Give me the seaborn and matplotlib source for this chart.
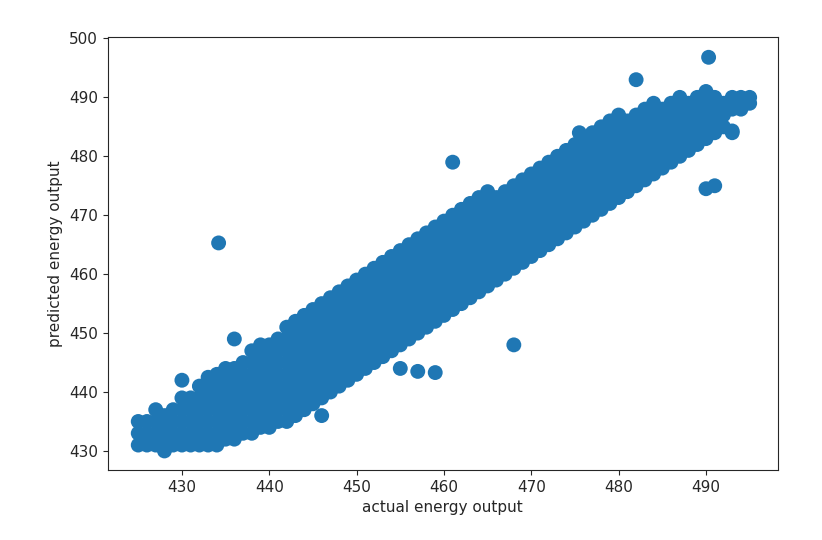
import matplotlib
matplotlib.use("Agg")
import matplotlib.pyplot as plt
import pandas as pd
import seaborn as sns

# actual output values (one column of points per value)
actual_cols = list(range(425, 496))
# predicted values, one list per actual value
predicted_cols = [
    [431, 433, 435], [431, 433, 435], [431, 433, 435, 437], [430, 432, 434, 436],
    [431, 433, 435, 437], [431, 433, 435, 437, 439], [431, 433, 435, 437, 439],
    [431, 433, 435, 437, 439, 441], [431, 433, 435, 437, 439, 441],
    [431, 433, 435, 437, 439, 441, 443], [432, 434, 436, 438, 440, 442, 444],
    [432, 434, 436, 438, 440, 442, 444], [433, 435, 437, 439, 441, 443, 445],
    [433, 435, 437, 439, 441, 443, 445, 447], [434, 436, 438, 440, 442, 444, 446, 448],
    [434, 436, 438, 440, 442, 444, 446, 448], [435, 437, 439, 441, 443, 445, 447, 449],
    [435, 437, 439, 441, 443, 445, 447, 449, 451], [436, 438, 440, 442, 444, 446, 448, 450, 452],
    [437, 439, 441, 443, 445, 447, 449, 451, 453], [438, 440, 442, 444, 446, 448, 450, 452, 454],
    [439, 441, 443, 445, 447, 449, 451, 453, 455], [440, 442, 444, 446, 448, 450, 452, 454, 456],
    [441, 443, 445, 447, 449, 451, 453, 455, 457], [442, 444, 446, 448, 450, 452, 454, 456, 458],
    [443, 445, 447, 449, 451, 453, 455, 457, 459], [444, 446, 448, 450, 452, 454, 456, 458, 460],
    [445, 447, 449, 451, 453, 455, 457, 459, 461], [446, 448, 450, 452, 454, 456, 458, 460, 462],
    [447, 449, 451, 453, 455, 457, 459, 461, 463], [448, 450, 452, 454, 456, 458, 460, 462, 464],
    [449, 451, 453, 455, 457, 459, 461, 463, 465], [450, 452, 454, 456, 458, 460, 462, 464, 466],
    [451, 453, 455, 457, 459, 461, 463, 465, 467], [452, 454, 456, 458, 460, 462, 464, 466, 468],
    [453, 455, 457, 459, 461, 463, 465, 467, 469], [454, 456, 458, 460, 462, 464, 466, 468, 470],
    [455, 457, 459, 461, 463, 465, 467, 469, 471], [456, 458, 460, 462, 464, 466, 468, 470, 472],
    [457, 459, 461, 463, 465, 467, 469, 471, 473], [458, 460, 462, 464, 466, 468, 470, 472, 474],
    [459, 461, 463, 465, 467, 469, 471, 473], [460, 462, 464, 466, 468, 470, 472, 474],
    [461, 463, 465, 467, 469, 471, 473, 475], [462, 464, 466, 468, 470, 472, 474, 476],
    [463, 465, 467, 469, 471, 473, 475, 477], [464, 466, 468, 470, 472, 474, 476, 478],
    [465, 467, 469, 471, 473, 475, 477, 479], [466, 468, 470, 472, 474, 476, 478, 480],
    [467, 469, 471, 473, 475, 477, 479, 481], [468, 470, 472, 474, 476, 478, 480, 482],
    [469, 471, 473, 475, 477, 479, 481, 483], [470, 472, 474, 476, 478, 480, 482, 484],
    [471, 473, 475, 477, 479, 481, 483, 485], [472, 474, 476, 478, 480, 482, 484, 486],
    [473, 475, 477, 479, 481, 483, 485, 487], [474, 476, 478, 480, 482, 484, 486],
    [475, 477, 479, 481, 483, 485, 487], [476, 478, 480, 482, 484, 486, 488],
    [477, 479, 481, 483, 485, 487, 489], [478, 480, 482, 484, 486, 488],
    [479, 481, 483, 485, 487, 489], [480, 482, 484, 486, 488, 490],
    [481, 483, 485, 487, 489], [482, 484, 486, 488, 490], [483, 485, 487, 489, 491],
    [484, 486, 488, 490], [485, 487, 489], [484, 488, 490], [488, 490], [489, 490],
]
# stray points away from the main band
outlier_actual = [434.2, 461, 468, 490, 491, 490.3, 482, 436, 430, 446, 455, 457, 459, 475.5, 433, 493]
outlier_pred = [465.3, 479, 448, 474.5, 475, 496.8, 493, 449, 442, 436, 444, 443.5, 443.3, 484, 442.5, 484.3]

xs, ys = [], []
for x, col in zip(actual_cols, predicted_cols):
    xs += [x] * len(col)
    ys += col
xs += outlier_actual
ys += outlier_pred
df = pd.DataFrame({"actual": xs, "predicted": ys})

sns.set_style("ticks")
plt.rcParams["font.family"] = ["DejaVu Sans"]
fig = plt.figure(figsize=(8.22, 5.4), dpi=100)
ax = fig.add_axes([0.131, 0.13, 0.815, 0.801])
sns.scatterplot(data=df, x="actual", y="predicted", ax=ax, s=115,
                color="#1f77b4", edgecolor="none", alpha=1)
ax.set_xlim(421.5, 498.2)
ax.set_ylim(426.8, 500.2)
ax.set_xticks(range(430, 491, 10))
ax.set_yticks(range(430, 501, 10))
ax.tick_params(labelsize=11)
ax.set_xlabel("actual energy output", fontsize=11)
ax.set_ylabel("predicted energy output", fontsize=11)
fig.savefig("out.png")
